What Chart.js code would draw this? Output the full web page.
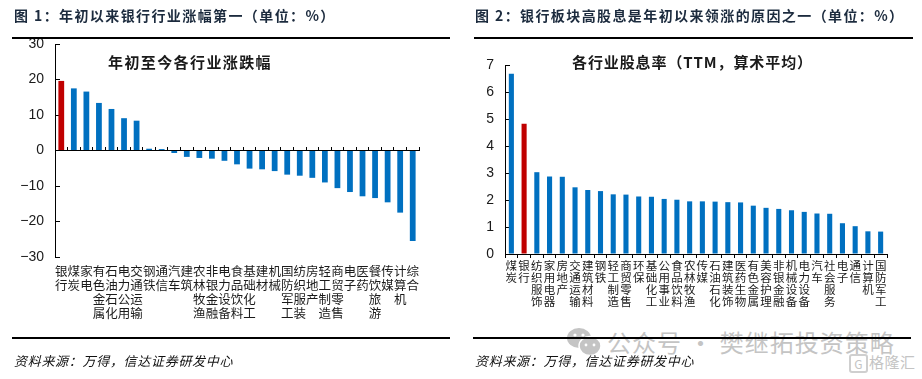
<!DOCTYPE html>
<html>
<head>
<meta charset="utf-8">
<script src="https://cdn.jsdelivr.net/npm/chart.js@4"></script>
<style>
    html, body { margin: 0; padding: 0; background: #fff; }
    #page { position: relative; width: 922px; height: 379px; overflow: hidden; font-family: "Noto Sans CJK SC", sans-serif; }
    #page canvas { position: absolute; top: 0; }
    .text { position: absolute; white-space: nowrap; }
    .head { top: 5px; font-size: 14px; line-height: 20px; font-weight: 700; letter-spacing: 1.4px; color: #1c2b3e; }
    .inner { top: 51px; font-size: 15px; line-height: 22px; font-weight: 700; letter-spacing: 1.4px; color: #1a1a1a; }
    .source { top: 351px; font-size: 13px; line-height: 20px; font-style: italic; letter-spacing: 0.7px; color: #111; }
    .rule { position: absolute; height: 2px; background: #000; }
    .mark { color: #c4c4c4; }
</style>
</head>
<body>
<div id="page">
    <div class="text mark" style="left:607px; top:324px; font-size:24px; line-height:36px; letter-spacing:1px;">公众号 · 樊继拓投资策略</div>
    <svg style="position:absolute; left:566px; top:327px;" width="36" height="30" viewBox="0 0 36 30">
        <ellipse cx="13" cy="11" rx="12" ry="10" fill="#c4c4c4"/>
        <ellipse cx="24" cy="19" rx="11" ry="9.5" fill="#c4c4c4" stroke="#fff" stroke-width="1.5"/>
        <circle cx="9" cy="8" r="1.6" fill="#fff"/>
        <circle cx="17" cy="8" r="1.6" fill="#fff"/>
        <circle cx="20" cy="18" r="1.4" fill="#fff"/>
        <circle cx="28" cy="18" r="1.4" fill="#fff"/>
    </svg>
    <div class="text mark" style="left:849px; top:354px; width:15px; height:15px; border:2px solid #cfcfcf; border-radius:3px; font-size:12px; line-height:15px; text-align:center;">G</div>
    <div class="text mark" style="left:869px; top:352px; font-size:15px; line-height:20px; letter-spacing:0.5px;">格隆汇</div>

    <canvas id="return-chart" width="461" height="379" style="left:0"></canvas>
    <canvas id="dividend-chart" width="461" height="379" style="left:461px"></canvas>

    <div class="text head" style="left:14px">图 1：年初以来银行行业涨幅第一（单位：%）</div>
    <div class="text head" style="left:475px">图 2：银行板块高股息是年初以来领涨的原因之一（单位：%）</div>
    <div class="rule" style="left:12px; width:438px; top:37px"></div>
    <div class="rule" style="left:474px; width:439px; top:37px"></div>
    <div class="text inner" style="left:108px">年初至今各行业涨跌幅</div>
    <div class="text inner" style="left:572px; letter-spacing:0.9px">各行业股息率（TTM，算术平均）</div>
    <div class="rule" style="left:12px; width:438px; top:337px"></div>
    <div class="rule" style="left:473px; width:438px; top:337px"></div>
    <div class="text source" style="left:14px">资料来源：万得，信达证券研发中心</div>
    <div class="text source" style="left:475px">资料来源：万得，信达证券研发中心</div>
</div>

<script>
var return_categories = ['银行', '煤炭', '家电', '有色金属', '石油石化', '电力公用', '交通运输', '钢铁', '通信', '汽车',
    '建筑', '农林牧渔', '非银金融', '电力设备', '食品饮料', '基础化工', '建材', '机械', '国防军工', '纺织服装',
    '房地产', '轻工制造', '商贸零售', '电子', '医药', '餐饮旅游', '传媒', '计算机', '综合'];
var return_values = [19.6, 17.5, 16.6, 13.4, 11.7, 9.1, 8.4, 0.5, 0.4, -0.7,
    -1.8, -2.1, -2.3, -2.9, -3.9, -5.1, -5.3, -5.8, -6.8, -7.1,
    -7.7, -9.0, -10.6, -11.7, -12.9, -13.4, -14.6, -17.5, -25.5];

var dividend_categories = ['煤炭', '银行', '纺织服饰', '家用电器', '房地产', '交通运输', '建筑材料', '钢铁', '轻工制造', '商贸零售',
    '环保', '基础化工', '公用事业', '食品饮料', '农林牧渔', '传媒', '石油石化', '建筑装饰', '医药生物', '有色金属',
    '美容护理', '非银金融', '机械设备', '电力设备', '汽车', '社会服务', '电子', '通信', '计算机', '国防军工'];
var dividend_values = [6.68, 4.82, 3.03, 2.87, 2.86, 2.47, 2.37, 2.33, 2.21, 2.2,
    2.13, 2.12, 2.04, 2.01, 1.95, 1.95, 1.94, 1.92, 1.91, 1.79,
    1.71, 1.67, 1.62, 1.56, 1.5, 1.49, 1.14, 1.03, 0.84, 0.83];

var BLUE = '#0070C0';
var RED = '#C00000';
var BANK = '银行';

function BarColors(categories) {
    return categories.map(function (name) {
        return name === BANK ? RED : BLUE;
    });
}

function LoadBarChart(id, categories, values, settings) {
    var ctx = document.getElementById(id);
    return new Chart(ctx, {
        type: 'bar',
        data: {
            labels: categories,
            datasets: [{
                data: values,
                backgroundColor: BarColors(categories),
                barPercentage: settings.bar,
                categoryPercentage: 1
            }]
        },
        options: {
            responsive: false,
            animation: false,
            layout: { padding: settings.padding },
            plugins: {
                legend: false,
                title: { display: false },
                tooltip: { enabled: false }
            },
            scales: {
                x: {
                    position: settings.xPosition,
                    offset: true,
                    afterFit: function (axis) {
                        axis.height = settings.xHeight;
                        // tick padding also counts as side padding, and chart 1 needs a big one
                        axis.paddingLeft = 0;
                        axis.paddingRight = 0;
                    },
                    border: { color: '#000', width: 1 },
                    grid: { offset: true, drawOnChartArea: false, color: '#000', tickLength: settings.xTick, tickWidth: 1 },
                    ticks: {
                        autoSkip: false,
                        maxRotation: 0,
                        minRotation: 0,
                        padding: settings.xPad,
                        color: '#1a1a1a',
                        font: { family: '"Noto Sans CJK SC"', size: settings.xFont, lineHeight: settings.xLine },
                        callback: function (value) {
                            // one character per line, stacked under the bar
                            return this.getLabelForValue(value).split('');
                        }
                    }
                },
                y: {
                    min: settings.min,
                    max: settings.max,
                    afterFit: function (axis) { axis.width = settings.yWidth; },
                    border: { color: '#000', width: 1 },
                    grid: { drawOnChartArea: false, color: '#000', tickLength: -5, tickWidth: 1 },
                    ticks: {
                        stepSize: settings.step,
                        padding: 16,
                        color: '#1a1a1a',
                        font: { family: '"Liberation Sans"', size: 14 },
                        callback: function (value) {
                            return String(value).replace('-', '\u2212');
                        }
                    }
                }
            }
        }
    });
}

LoadBarChart('return-chart', return_categories, return_values, {
    bar: 0.46, min: -30, max: 30, step: 10, yWidth: 55,
    padding: { top: 44, bottom: 122, left: 0, right: 42 },
    xPosition: { y: 0 }, xHeight: 0, xTick: -4, xPad: 118, xFont: 12.5, xLine: '14px'
});

LoadBarChart('dividend-chart', dividend_categories, dividend_values, {
    bar: 0.4, min: 0, max: 7, step: 1, yWidth: 44,
    padding: { top: 65, bottom: 0, left: 0, right: 35 },
    xPosition: 'bottom', xHeight: 125, xTick: 4, xPad: 2, xFont: 11.5, xLine: '12px'
});
</script>
</body>
</html>
